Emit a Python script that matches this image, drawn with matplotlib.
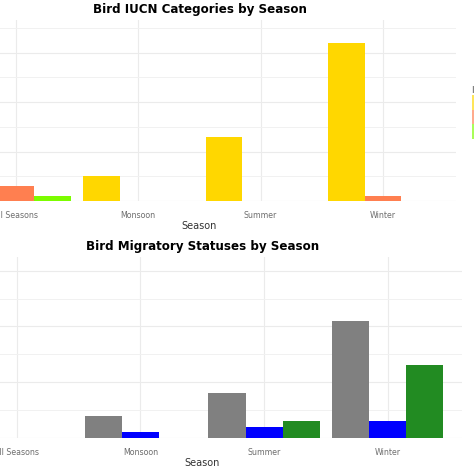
import matplotlib
matplotlib.use("Agg")
import matplotlib.pyplot as plt
from matplotlib.patches import Patch
import numpy as np

seasons = ['All Seasons', 'Monsoon', 'Summer', 'Winter']

iucn_labels = ['Least Concern', 'Near Threatened', 'Vulnerable']
iucn_counts = [
    [0, 5, 13, 32],
    [3, 0, 0, 1],
    [1, 0, 0, 0],
]
iucn_colors = ['#FFD700', '#FF7F50', '#7CFC00']

migr_labels = ['Resident', 'Local Migrant', 'Winter Visitor']
migr_counts = [
    [0, 4, 8, 21],
    [0, 1, 2, 3],
    [0, 0, 3, 13],
]
migr_colors = ['#808080', '#0000FF', '#228B22']

W = H = 474.0
fig = plt.figure(figsize=(4.74, 4.74), dpi=100)


def px_axes(left, top, width, height):
    return fig.add_axes([left / W, 1 - (top + height) / H, width / W, height / H])


def draw_panel(ax, counts, labels, colors, title, ytop):
    x = np.arange(len(seasons))
    bw = 0.3
    for i, (vals, lab, col) in enumerate(zip(counts, labels, colors)):
        ax.bar(x + (i - 1) * bw, vals, width=bw, color=col, label=lab, zorder=3)
    ax.set_xlim(-0.6, 3.6)
    ax.set_ylim(0, ytop)
    ax.set_xticks(x)
    ax.set_xticklabels(seasons, fontsize=5.7, color='#6e6e6e')
    ax.set_yticks(np.arange(0, ytop, 10))
    ax.set_yticks(np.arange(5, ytop, 10), minor=True)
    ax.tick_params(axis='both', which='both', length=0, pad=7)
    ax.tick_params(axis='y', labelleft=False)
    ax.grid(True, which='major', color='#EBEBEB', linewidth=0.8, zorder=0)
    ax.grid(True, which='minor', axis='y', color='#F1F1F1', linewidth=0.7, zorder=0)
    for s in ax.spines.values():
        s.set_visible(False)
    ax.set_xlabel('Season', fontsize=7, color='#333333', labelpad=1)
    ax.set_title(title, fontsize=8.6, fontweight='bold', pad=5)


ax1 = px_axes(-57.4, 20, 513.7, 181)
draw_panel(ax1, iucn_counts, iucn_labels, iucn_colors,
           'Bird IUCN Categories by Season', 36.6)

ax2 = px_axes(-57.5, 256.7, 519.5, 181.3)
draw_panel(ax2, migr_counts, migr_labels, migr_colors,
           'Bird Migratory Statuses by Season', 32.5)

# legend of the upper panel, mostly outside the crop
keys = [Patch(facecolor=c, alpha=0.65) for c in iucn_colors]
leg = fig.legend(handles=keys, labels=iucn_labels, loc='upper left',
                 bbox_to_anchor=(472 / W, 1 - 86 / H), frameon=False,
                 title='IUCN Category', alignment='left', borderpad=0,
                 borderaxespad=0, handlelength=1.0, handleheight=2.3,
                 labelspacing=0, fontsize=6, title_fontsize=6.5)
leg.get_title().set_color('#555555')

fig.savefig('out.png', dpi=100)
